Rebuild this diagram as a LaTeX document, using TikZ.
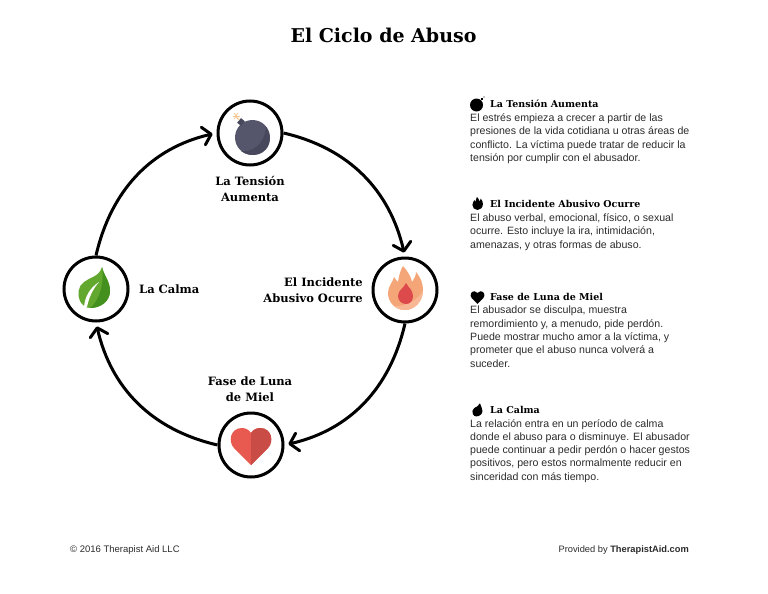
\documentclass[tikz,border=0pt]{standalone}
\usepackage{fontspec}
\setmainfont{Liberation Sans}
\newfontfamily\slabfont{DejaVu Serif}
\usetikzlibrary{arrows.meta}
\definecolor{bombdark}{HTML}{47485C}
\definecolor{bomblight}{HTML}{55566B}
\definecolor{leaflight}{HTML}{62A82F}
\definecolor{leafdark}{HTML}{44901F}
\definecolor{flamelight}{HTML}{F5A678}
\definecolor{flamedark}{HTML}{F8B896}
\definecolor{flamered}{HTML}{DC4A4C}
\definecolor{heartleft}{HTML}{E85A50}
\definecolor{heartright}{HTML}{C94C46}
\definecolor{sparkcol}{HTML}{F3C58E}
\definecolor{bodycol}{HTML}{2B2B2B}
\tikzset{
  stage/.style={circle,draw=black,line width=3pt,minimum size=64pt,inner sep=0pt,fill=white},
  cyclearrow/.style={line width=3pt,-{Straight Barb[length=8pt,width=18pt,round]},shorten >=4pt},
  stagelabel/.style={font=\slabfont\bfseries\fontsize{11.5}{16}\selectfont,align=center,inner sep=0pt},
  headlabel/.style={font=\slabfont\bfseries\fontsize{9.5}{12}\selectfont,anchor=west,inner sep=0pt},
  bodytext/.style={font=\fontsize{10.6}{13.3}\selectfont,text=bodycol,align=left,anchor=north west,inner sep=0pt},
  footer/.style={font=\fontsize{9.5}{11}\selectfont,text=bodycol,inner sep=0pt}
}
% icon outlines, drawn around the origin
\newcommand{\leafpath}{(6,-21) .. controls (8,-12) and (14,-7) .. (14,3) .. controls (14,13) and (5,20) .. (-6,20) .. controls (-10,20) and (-14,17) .. (-16,13) .. controls (-19,7) and (-18,-2) .. (-12,-6) .. controls (-6,-11) and (3,-11) .. (6,-21) -- cycle}
\newcommand{\flamepath}{(-2,-24) .. controls (4,-17) and (6,-13) .. (7,-8) .. controls (9,-11) and (11,-14) .. (11,-18) .. controls (16,-12) and (18,-6) .. (18,0) .. controls (18,12) and (9,20) .. (0,20) .. controls (-10,20) and (-17,12) .. (-17,3) .. controls (-17,-4) and (-12,-8) .. (-11,-13) .. controls (-9,-10) and (-8,-9) .. (-7,-8) .. controls (-6,-14) and (-5,-19) .. (-2,-24) -- cycle}
\newcommand{\heartpath}{(0,20) -- (-17,3) .. controls (-23,-3) and (-21,-17) .. (-9,-17) .. controls (-5,-17) and (-2,-15) .. (0,-12) .. controls (2,-15) and (5,-17) .. (9,-17) .. controls (21,-17) and (23,-3) .. (17,3) -- cycle}
\begin{document}
\begin{tikzpicture}[x=1pt,y=-1pt]
\useasboundingbox (0,0) rectangle (768,594);
\node[font=\slabfont\bfseries\fontsize{19}{22}\selectfont] (title) at (383.5,35) {El Ciclo de Abuso};
% the four stages
\node[stage] (tension) at (250,133) {};
\node[stage] (incident) at (405,290) {};
\node[stage] (honeymoon) at (251,445) {};
\node[stage] (calm) at (96,289) {};
\draw[cyclearrow] (tension.east) to[out=-13,in=103] (incident.north);
\draw[cyclearrow] (incident.south) to[out=-103,in=13] (honeymoon.east);
\draw[cyclearrow] (honeymoon.west) to[out=167,in=-77] (calm.south);
\draw[cyclearrow] (calm.north) to[out=77,in=193] (tension.west);
% bomb
\fill[bomblight] (252.5,137.5) circle (17.5);
\fill[bombdark] (241,151) .. controls (252,152) and (264,146) .. (266,127) .. controls (273,138) and (270,150) .. (259,154) .. controls (253,156) and (246,155) .. (241,151) -- cycle;
\fill[bombdark,rotate around={-40:(241,122)}] (238.5,119) rectangle (243.5,125);
\draw[sparkcol,line width=1pt] (239.5,120) -- (237,117.5);
\foreach \a in {0,60,...,300} {
  \draw[sparkcol,line width=0.8pt] (236,116) -- +(\a:3.5);
}
% leaf
\begin{scope}[shift={(96,288)}]
\fill[leaflight] \leafpath;
\fill[leafdark] (6,-21) .. controls (8,-12) and (14,-7) .. (14,3) .. controls (14,13) and (5,20) .. (-6,20) .. controls (2,14) and (9,-3) .. (6,-21) -- cycle;
\fill[white] (-12,19) .. controls (-11,8) and (-6,0) .. (3,-6) .. controls (-3,1) and (-7,9) .. (-9,19) -- cycle;
\end{scope}
% flame
\begin{scope}[shift={(405,290)}]
\fill[flamelight] \flamepath;
\fill[flamedark] (18,0) .. controls (18,12) and (9,20) .. (0,20) .. controls (-4,20) and (-8,19) .. (-11,16) .. controls (0,17) and (14,10) .. (18,0) -- cycle;
\fill[flamered] (1,-7) .. controls (3,-3) and (8,0) .. (8,6) .. controls (8,11) and (5,14) .. (1,14) .. controls (-3,14) and (-7,11) .. (-7,6) .. controls (-7,0) and (-1,-2) .. (1,-7) -- cycle;
\end{scope}
% heart
\begin{scope}[shift={(251,445)}]
\fill[heartleft] \heartpath;
\clip (0,-25) rectangle (30,25);
\fill[heartright] \heartpath;
\end{scope}
% stage labels
\node[stagelabel] (tensionlabel) at (250,189) {La Tensión\\Aumenta};
\node[stagelabel,anchor=east,align=right] (incidentlabel) at (363,290) {El Incidente\\Abusivo Ocurre};
\node[stagelabel] (honeymoonlabel) at (250,389) {Fase de Luna\\de Miel};
\node[stagelabel,anchor=west] (calmlabel) at (139,289) {La Calma};
% right column
\fill[black] (476.5,105) circle (6.5);
\fill[black] (481,98) rectangle (483,100);
\fill[black] (484,97) circle (0.7);
\node[headlabel] (tensionhead) at (490,104) {La Tensión Aumenta};
\node[bodytext] (tensionbody) at (470,113.5) {El estrés empieza a crecer a partir de las\\presiones de la vida cotidiana u otras áreas de\\conflicto. La víctima puede tratar de reducir la\\tensión por cumplir con el abusador.};
\begin{scope}[shift={(477.5,204)},scale=0.3]
\fill[black] \flamepath;
\end{scope}
\node[headlabel] (incidenthead) at (490,204) {El Incidente Abusivo Ocurre};
\node[bodytext] (incidentbody) at (470,213.5) {El abuso verbal, emocional, físico, o sexual\\ocurre. Esto incluye la ira, intimidación,\\amenazas, y otras formas de abuso.};
\begin{scope}[shift={(477.5,297)},scale=0.34]
\fill[black] \heartpath;
\end{scope}
\node[headlabel] (honeymoonhead) at (490,297) {Fase de Luna de Miel};
\node[bodytext] (honeymoonbody) at (470,306) {El abusador se disculpa, muestra\\remordimiento y, a menudo, pide perdón.\\Puede mostrar mucho amor a la víctima, y\\prometer que el abuso nunca volverá a\\suceder.};
\begin{scope}[shift={(478,410)},scale=0.32]
\fill[black] \leafpath;
\end{scope}
\node[headlabel] (calmhead) at (490,410) {La Calma};
\node[bodytext] (calmbody) at (470,419) {La relación entra en un período de calma\\donde el abuso para o disminuye. El abusador\\puede continuar a pedir perdón o hacer gestos\\positivos, pero estos normalmente reducir en\\sinceridad con más tiempo.};
% footer
\node[footer,anchor=west] (copyright) at (70,550) {© 2016 Therapist Aid LLC};
\node[footer,anchor=east,font=\fontsize{9.3}{11}\selectfont] (provided) at (689,550) {Provided by \textbf{TherapistAid.com}};
\end{tikzpicture}
\end{document}
